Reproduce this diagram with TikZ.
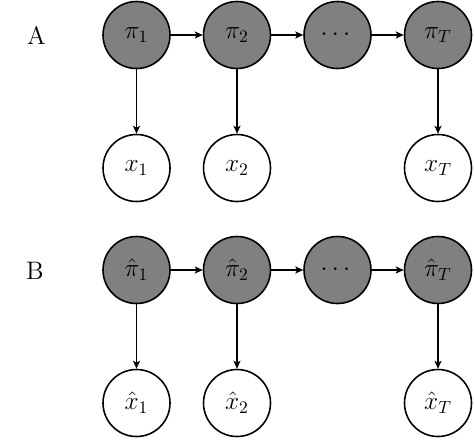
\documentclass[tikz,border=0pt]{standalone}
\usepackage{amsmath}
\usepackage{tikz}
\usetikzlibrary{positioning}
\usetikzlibrary{arrows.meta}
\tikzset{tips=proper}
\tikzset{%
    hidden/.style={circle, draw, line width=0.9pt, fill={rgb,255:red,128;green,128;blue,128}, minimum size=1.34cm, inner sep=0pt},
    observed/.style={circle, draw, line width=0.9pt, fill=white, minimum size=1.34cm, inner sep=0pt},
    arrow/.style={draw, line width=0.75pt, -{Stealth[length=4.5pt,width=4pt,inset=1pt]}}
}

\begin{document}
\begin{tikzpicture}[on grid]
		\tikzstyle{every node}=[font=\Large]
		\useasboundingbox (0,0) rectangle (9.48,-8.8);

		% chain A
		\node               (labA)                      at (0.73,-0.70)     {A};
		\node[hidden]       (pi1)                       at (2.73,-0.70)     {$\pi_1$};
		\node[hidden]       (pi2)   [right=2.01 of pi1]                     {$\pi_2$};
		\node[hidden]       (pidots)[right=2.01 of pi2]                     {$\cdots$};
		\node[hidden]       (piT)   [right=2.01 of pidots]                  {$\pi_T$};
		\node[observed]     (x1)    [below=2.66 of pi1]                     {$x_1$};
		\node[observed]     (x2)    [below=2.66 of pi2]                     {$x_2$};
		\node[observed]     (xT)    [below=2.66 of piT]                     {$x_T$};

		% chain B
		\node               (labB)                      at (0.70,-5.42)     {B};
		\node[hidden]       (hpi1)  [below=4.70 of pi1]                     {$\hat{\pi}_1$};
		\node[hidden]       (hpi2)  [right=2.01 of hpi1]                    {$\hat{\pi}_2$};
		\node[hidden]       (hpidots)[right=2.01 of hpi2]                   {$\cdots$};
		\node[hidden]       (hpiT)  [right=2.01 of hpidots]                 {$\hat{\pi}_T$};
		\node[observed]     (hx1)   [below=2.66 of hpi1]                    {$\hat{x}_1$};
		\node[observed]     (hx2)   [below=2.66 of hpi2]                    {$\hat{x}_2$};
		\node[observed]     (hxT)   [below=2.66 of hpiT]                    {$\hat{x}_T$};

		\path[arrow]
		(pi1)     edge (pi2)
		(pi2)     edge (pidots)
		(pidots)  edge (piT)
		(pi1)     edge (x1)
		(pi2)     edge (x2)
		(piT)     edge (xT)
		(hpi1)    edge (hpi2)
		(hpi2)    edge (hpidots)
		(hpidots) edge (hpiT)
		(hpi1)    edge (hx1)
		(hpi2)    edge (hx2)
		(hpiT)    edge (hxT);
	\end{tikzpicture}
\end{document}
